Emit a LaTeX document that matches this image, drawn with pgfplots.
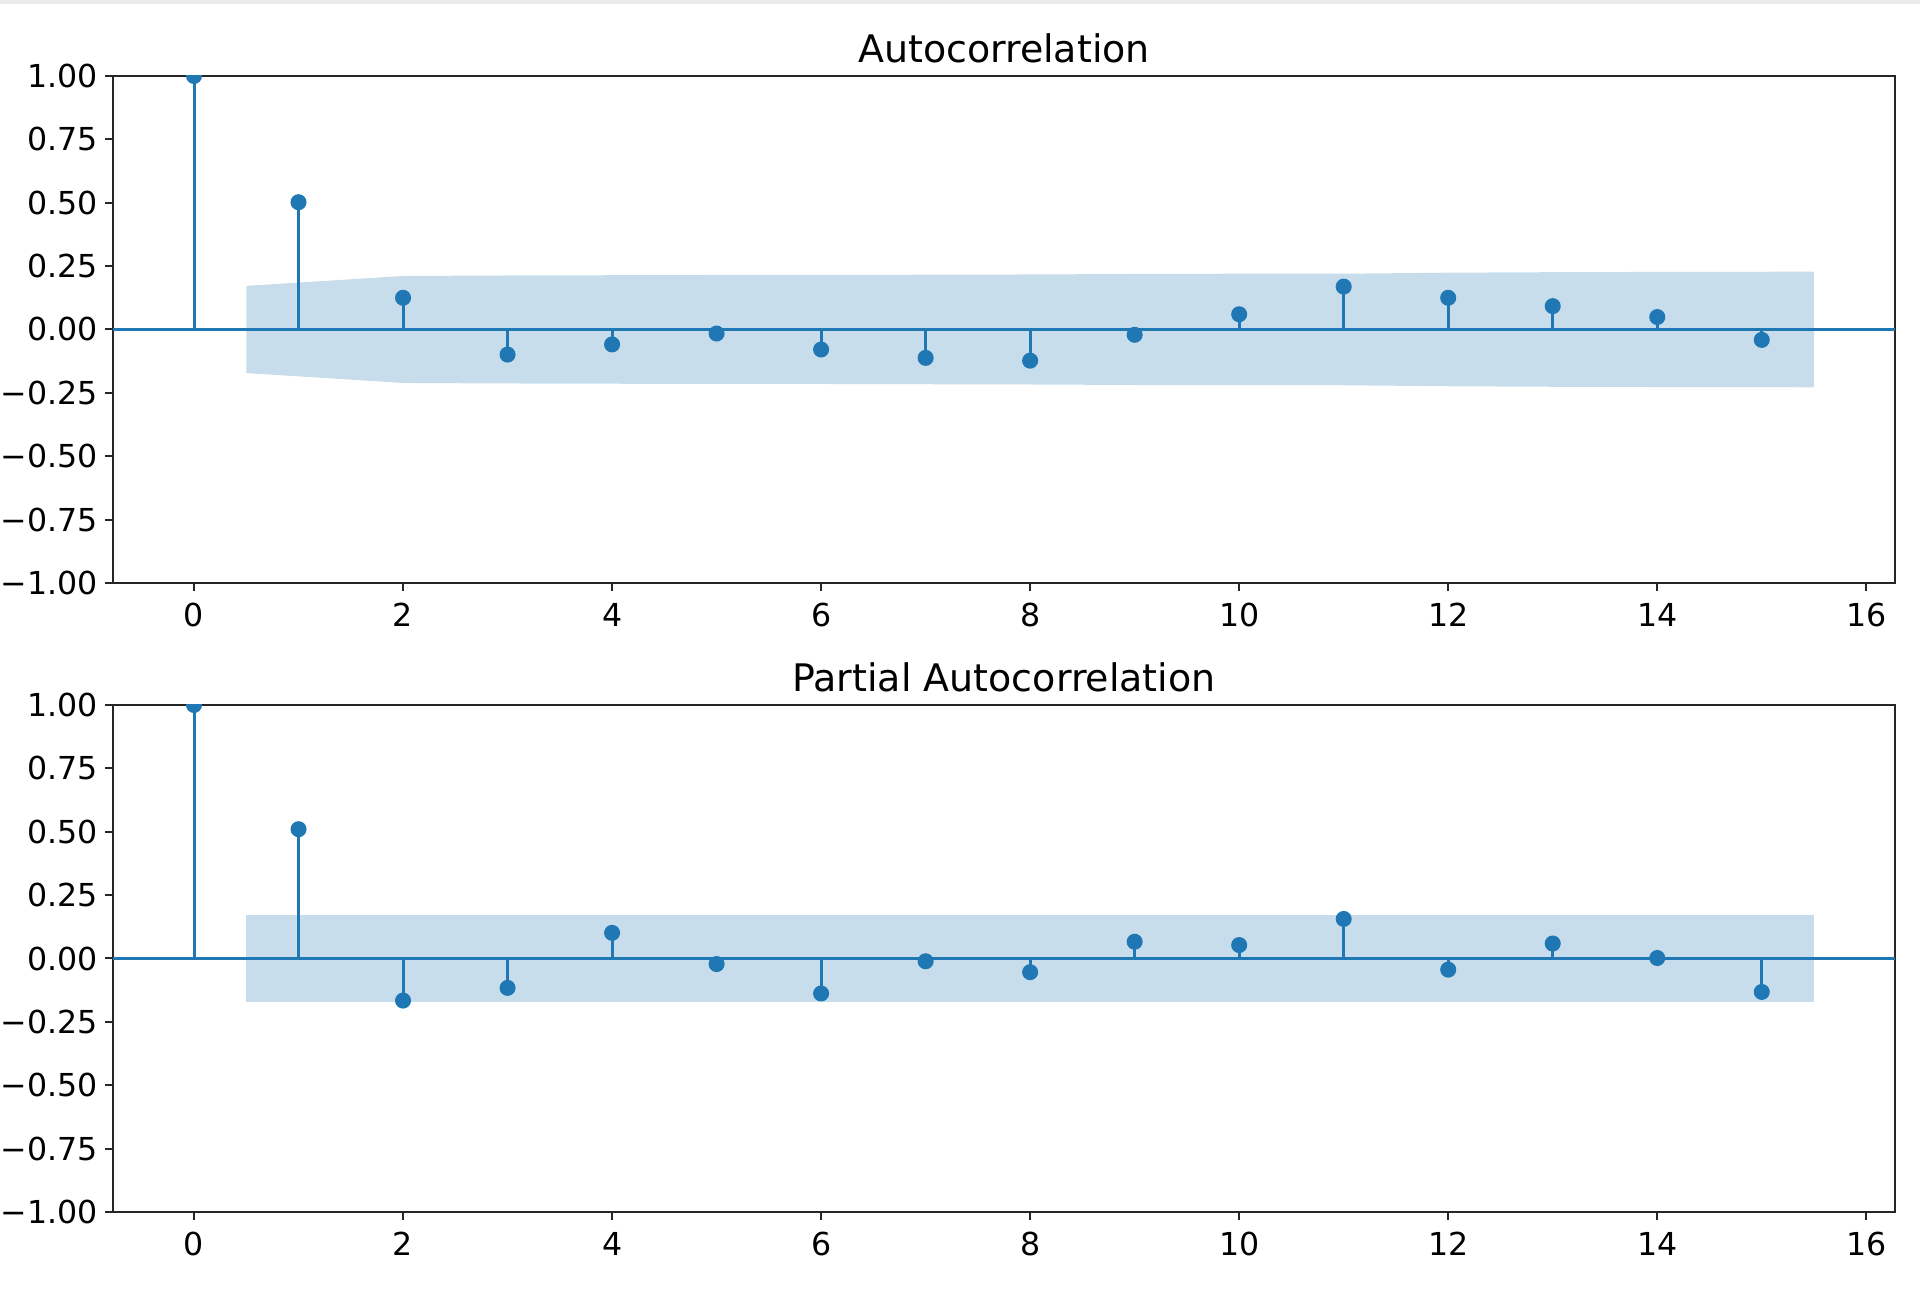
\documentclass[border=0pt]{standalone}
\usepackage{fontspec}
\setmainfont{DejaVu Sans}
\usepackage{pgfplots}
\pgfplotsset{compat=1.18}
\usepackage{pgfplotstable}

\definecolor{c0}{HTML}{1F77B4}
\definecolor{band}{HTML}{C7DDEC}

% lag, value
\pgfplotstableread{
lag val
0 1.000
1 0.502
2 0.125
3 -0.099
4 -0.059
5 -0.016
6 -0.079
7 -0.112
8 -0.123
9 -0.021
10 0.060
11 0.169
12 0.125
13 0.092
14 0.049
15 -0.041
}\acfdata

\pgfplotstableread{
lag val
0 1.000
1 0.510
2 -0.166
3 -0.116
4 0.101
5 -0.022
6 -0.138
7 -0.011
8 -0.054
9 0.066
10 0.053
11 0.156
12 -0.044
13 0.059
14 0.002
15 -0.132
}\pacfdata

\pgfplotsset{
  corrplot/.style={
    scale only axis,
    width=178.2mm, height=50.7mm,
    xmin=-0.775, xmax=16.275,
    ymin=-1, ymax=1,
    axis line style={black!85, line width=0.2mm},
    tick style={black!85, line width=0.2mm},
    tick align=outside,
    major tick length=0.8mm,
    xtick pos=lower, ytick pos=left,
    xtick={0,2,...,16},
    xticklabels={0,2,4,6,8,10,12,14,16},
    ytick={-1,-0.75,-0.5,-0.25,0,0.25,0.5,0.75,1},
    yticklabels={−1.00,−0.75,−0.50,−0.25,0.00,0.25,0.50,0.75,1.00},
    ticklabel style={font=\fontsize{9pt}{10.5pt}\selectfont},
    yticklabel style={xshift=0.5mm},
    every axis title/.style={font=\fontsize{10.8pt}{12.5pt}\selectfont,
                             at={(0.5,1)}, anchor=base, yshift=1.3mm},
    clip marker paths=true,
    stems/.style={ycomb, c0, line width=0.3mm, mark=*, mark size=0.65mm,
                  mark options={fill=c0, draw=c0}},
  }
}

\begin{document}
\begin{tikzpicture}
\path[use as bounding box] (0,0) rectangle (192mm,129.1mm);
\fill[black!8] (0,128.7mm) rectangle (192mm,129.1mm);

\begin{axis}[corrplot, at={(11.3mm,121.5mm)}, anchor=north west, title={Autocorrelation}]
  \addplot[fill=band, draw=none] coordinates {
    (0.5,0.172) (2,0.211) (3,0.213) (4,0.214) (5,0.215) (6,0.215) (7,0.216) (8,0.217)
    (9,0.219) (10,0.220) (11,0.220) (12,0.224) (13,0.226) (14,0.227) (15.5,0.228)
    (15.5,-0.228) (14,-0.227) (13,-0.226) (12,-0.224) (11,-0.220) (10,-0.220) (9,-0.219)
    (8,-0.217) (7,-0.216) (6,-0.215) (5,-0.215) (4,-0.214) (3,-0.213) (2,-0.211) (0.5,-0.172)
  } -- cycle;
  \addplot[c0, line width=0.3mm] coordinates {(-0.775,0) (16.275,0)};
  \addplot[stems] table[x=lag, y=val] {\acfdata};
\end{axis}

\begin{axis}[corrplot, at={(11.3mm,58.6mm)}, anchor=north west, title={Partial Autocorrelation}]
  \addplot[fill=band, draw=none] coordinates {
    (0.5,0.173) (15.5,0.173) (15.5,-0.173) (0.5,-0.173)
  } -- cycle;
  \addplot[c0, line width=0.3mm] coordinates {(-0.775,0) (16.275,0)};
  \addplot[stems] table[x=lag, y=val] {\pacfdata};
\end{axis}
\end{tikzpicture}
\end{document}
